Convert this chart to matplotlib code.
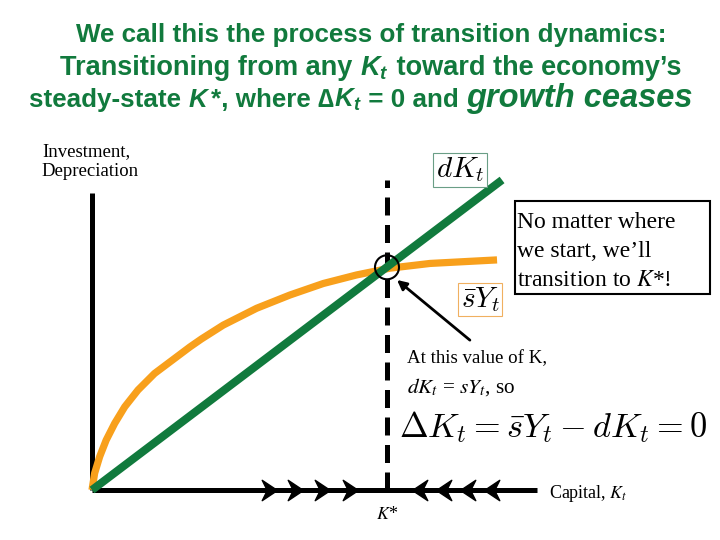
import matplotlib.pyplot as plt
from matplotlib.path import Path
from matplotlib.patches import Circle, Rectangle

GREEN = '#117a3d'
ORANGE = '#f8a01c'

# capital measured in units of the steady state, K* = 1
k_star = 1.0
k_axis_end = 1.508
y_axis_top = 1.007
dash_top = 1.05

# saving curve  s*Y_t
k_curve = [0, 0.009, 0.026, 0.048, 0.077, 0.111, 0.156, 0.212, 0.280,
           0.332, 0.371, 0.445, 0.558, 0.671, 0.784, 0.897, 1.010, 1.146,
           1.373]
sy_curve = [0, 0.057, 0.113, 0.169, 0.226, 0.282, 0.339, 0.395, 0.446,
            0.485, 0.512, 0.559, 0.616, 0.661, 0.700, 0.729, 0.752, 0.768,
            0.780]

# depreciation line  d*K_t
k_line = [0, 1.39]
dk_line = [0, 1.051]

# arrow tips on the capital axis
right_tips = [0.627, 0.715, 0.807, 0.902]
left_tips = [1.085, 1.166, 1.247, 1.329]

fig = plt.figure(figsize=(7.2, 5.4), dpi=100)
ax = fig.add_axes([0, 0, 1, 1])
ax.set_xlim(-92 / 295, 628 / 295)
ax.set_ylim(-50 / 295, 490 / 295)
ax.axis('off')

# axes
ax.plot([0, 0], [0, y_axis_top], color='black', lw=3.6, solid_capstyle='butt')
ax.plot([0, k_axis_end], [0, 0], color='black', lw=3.6, solid_capstyle='butt')
ax.plot([k_star, k_star], [0, dash_top], color='black', lw=3.6,
        dashes=(3.6, 1.9))

ax.plot(k_curve, sy_curve, color=ORANGE, lw=5.2, solid_capstyle='butt',
        solid_joinstyle='round')
ax.plot(k_line, dk_line, color=GREEN, lw=5.8, solid_capstyle='butt')

ax.add_patch(Circle((k_star, 0.755), 12 / 295, fill=False, ec='black',
                    lw=1.5, zorder=5))

# chevrons
codes = [Path.MOVETO, Path.LINETO, Path.LINETO, Path.LINETO, Path.CLOSEPOLY]
right = Path([(0, 0), (-1.5, 1), (-1, 0), (-1.5, -1), (0, 0)], codes)
left = Path([(0, 0), (1.5, 1), (1, 0), (1.5, -1), (0, 0)], codes)
ax.plot(right_tips, [0] * 4, ls='none', marker=right, ms=22, color='black')
ax.plot(left_tips, [0] * 4, ls='none', marker=left, ms=22, color='black')

ax.annotate('', xy=(1.034, 0.712), xytext=(1.281, 0.508),
            arrowprops=dict(arrowstyle='-|>', color='black', lw=2,
                            mutation_scale=14, shrinkA=0, shrinkB=0))

# labels
serif = 'Liberation Serif'
ax.text(-0.17, 1.064, 'Investment,\nDepreciation', family=serif, fontsize=13.5,
        va='baseline', linespacing=1.26)
ax.text(1.55, -0.027, 'Capital, $K_t$', family=serif, fontsize=13,
        math_fontfamily='stix', va='baseline')
ax.text(k_star, -0.098, '$K$*', family=serif, fontsize=13,
        math_fontfamily='stix', ha='center', va='baseline')

ax.text(1.165, 1.06, '$dK_t$', fontsize=21, math_fontfamily='cm',
        va='baseline', bbox=dict(boxstyle='square,pad=0.08', fc='white',
                                 ec='#6a9e86', lw=0.8))
ax.text(1.25, 0.62, r'$\bar{s}Y_t$', fontsize=21, math_fontfamily='cm',
        va='baseline', bbox=dict(boxstyle='square,pad=0.08', fc='white',
                                 ec='#f0b060', lw=0.8))

ax.add_patch(Rectangle((1.434, 0.664), 0.661, 0.316, fill=False, ec='black',
                       lw=1.5, zorder=5))
ax.text(1.441, 0.692, 'No matter where\nwe start, we\u2019ll\ntransition to $K$*!',
        family=serif, fontsize=17, math_fontfamily='stix', va='baseline',
        linespacing=1.5)

ax.text(1.068, 0.431, 'At this value of K,', family=serif, fontsize=13.6,
        va='baseline')
ax.text(1.068, 0.332, '$dK_t$ = $sY_t$, so', family=serif, fontsize=15.3,
        math_fontfamily='stix', va='baseline')
ax.text(1.04, 0.18, r'$\Delta K_t = \bar{s}Y_t - dK_t = 0$', fontsize=24.8,
        math_fontfamily='cm', va='baseline')

# title, built from pieces so mixed styles can be centred
title_lines = [
    (42, 371, 18.7, [('We call this the process of transition dynamics:', {})]),
    (75, 371, 19.5, [('Transitioning from any ', {}),
                     ('$\\mathbfit{K}_\\mathbfit{t}$', {}),
                     (' toward the economy\u2019s', {})]),
    (107, 361, 18.7, [('steady-state ', {}),
                      ('$\\mathbfit{K}$', {}),
                      ('*, where \u2206', {}),
                      ('$\\mathbfit{K}_\\mathbfit{t}$', {}),
                      (' = 0 and ', {}),
                      ('growth ceases', {'style': 'italic', 'fontsize': 23.5})]),
]
plt.rcParams['mathtext.fontset'] = 'custom'
plt.rcParams['mathtext.bfit'] = 'Liberation Sans:bold:italic'
plt.rcParams['mathtext.it'] = 'Liberation Sans:italic'
plt.rcParams['mathtext.rm'] = 'Liberation Sans'

renderer = fig.canvas.get_renderer()
for y_px, x_mid, size, pieces in title_lines:
    texts = []
    for s, kw in pieces:
        opts = dict(family='Liberation Sans', weight='bold', fontsize=size)
        opts.update(kw)
        t = fig.text(0, 1 - y_px / 540, s, color=GREEN, va='baseline',
                     math_fontfamily='custom', **opts)
        texts.append(t)
    widths = [t.get_window_extent(renderer).width for t in texts]
    x = x_mid - sum(widths) / 2
    for t, w in zip(texts, widths):
        t.set_x(x / 720)
        x += w

fig.savefig('out.png', dpi=100)
